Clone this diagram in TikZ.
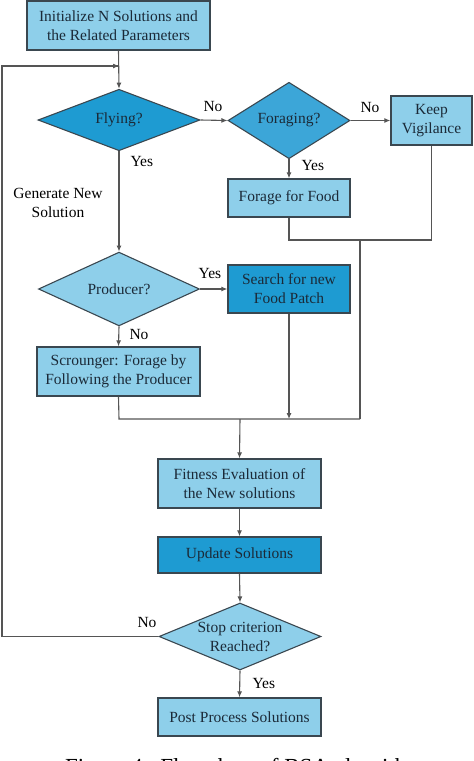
\documentclass[tikz,border=0pt]{standalone}
\usepackage{fontspec}
\setmainfont{Liberation Serif}
\usetikzlibrary{shapes.geometric,arrows.meta}
\definecolor{lightb}{HTML}{8ECFEA}
\definecolor{darkb}{HTML}{1E9BD2}
\definecolor{midb}{HTML}{3CA6D8}
\definecolor{edgec}{HTML}{3A4750}
\definecolor{linec}{HTML}{555555}
\definecolor{txtc}{HTML}{1B2A38}
\begin{document}
\begin{tikzpicture}[x=1pt,y=-1pt,
  every node/.style={font=\fontsize{15.5}{19}\selectfont},
  box/.style={draw=edgec,line width=1.3pt,rectangle,inner sep=0pt,align=center,text=txtc},
  dia/.style={draw=edgec,line width=1.1pt,diamond,inner sep=0pt,align=center,text=txtc},
  conn/.style={draw=linec,line width=1.1pt},
  arr/.style={conn,-{Latex[length=6pt,width=5pt]}},
  lbl/.style={text=black}]
\useasboundingbox (0,0) rectangle (474,761);
% boxes
\node[box,fill=lightb,minimum width=183pt,minimum height=49pt] (init) at (118.5,25.5) {Initialize N Solutions and\\the Related Parameters};
\node[dia,fill=darkb,minimum width=162pt,minimum height=60pt] (fly) at (119,120) {Flying?};
\node[dia,fill=midb,minimum width=122pt,minimum height=61pt] (forage) at (289,120.5) {Foraging?};
\node[box,fill=lightb,minimum width=81pt,minimum height=49pt] (vig) at (431.5,120.5) {Keep\\Vigilance};
\node[box,fill=lightb,minimum width=122pt,minimum height=38pt] (food) at (289,198) {Forage for Food};
\node[dia,fill=lightb,minimum width=161pt,minimum height=60pt] (prod) at (119,289) {Producer?};
\node[box,fill=darkb,minimum width=122pt,minimum height=48pt] (search) at (289,289) {Search for new\\Food Patch};
\node[box,fill=lightb,minimum width=163pt,minimum height=49pt] (scr) at (118.5,371.5) {Scrounger: Forage by\\Following the Producer};
\node[box,fill=lightb,minimum width=163pt,minimum height=49pt] (fit) at (239.5,483.5) {Fitness Evaluation of\\the New solutions};
\node[box,fill=darkb,minimum width=163pt,minimum height=36pt] (upd) at (239.5,555) {Update Solutions};
\node[dia,fill=lightb,minimum width=162pt,minimum height=67pt,
  label={[align=center,text=txtc,inner sep=0pt]center:Stop criterion\\Reached?}] (stop) at (240,636.5) {};
\node[box,fill=lightb,minimum width=163pt,minimum height=38pt] (post) at (239.5,717) {Post Process Solutions};
% coordinates
\coordinate (lb) at (2,636.5);
\coordinate (lt) at (2,66);
\coordinate (lm) at (119,66);
\coordinate (j1) at (289,240);
\coordinate (j2) at (431.5,240);
\coordinate (jm) at (360,240);
\coordinate (j3) at (360,419);
\coordinate (j4) at (289,419);
\coordinate (j5) at (119,419);
\coordinate (j6) at (240,419);
% connectors
\draw[arr] (init.south) -- (fly.north);
\draw[conn] (stop.west) -- (lb) -- (lt) -- (lm);
\draw[arr] (lt) -- (lm);
\draw[arr] (fly.east) -- (forage.west);
\draw[arr] (forage.east) -- (vig.west);
\draw[arr] (forage.south) -- (food.north);
\draw[conn] (food.south) -- (j1) -- (j2) -- (vig.south);
\draw[conn] (jm) -- (j3);
\draw[arr] (fly.south) -- (prod.north);
\draw[arr] (prod.east) -- (search.west);
\draw[arr] (search.south) -- (j4);
\draw[arr] (prod.south) -- (scr.north);
\draw[conn] (scr.south) -- (j5) -- (j3);
\draw[arr] (j6) -- (fit.north);
\draw[arr] (fit.south) -- (upd.north);
\draw[arr] (upd.south) -- (stop.north);
\draw[arr] (stop.south) -- (post.north);
% labels
\node[lbl] (l1) at (213,106) {No};
\node[lbl] (l2) at (370,107) {No};
\node[lbl,anchor=west] (l3) at (298,165) {Yes};
\node[lbl,anchor=west] (l4) at (127,161) {Yes};
\node[lbl,align=center] (l5) at (58,203) {Generate New\\Solution};
\node[lbl] (l6) at (210,273) {Yes};
\node[lbl,anchor=west] (l7) at (126,334) {No};
\node[lbl] (l8) at (147,622) {No};
\node[lbl,anchor=west] (l9) at (249,683) {Yes};
\node[anchor=base west,font=\fontsize{23}{27}\selectfont,inner sep=0pt] (cap) at (65,774) {Figure 4:\enspace Flowchart of BSA algorithm};
\end{tikzpicture}
\end{document}
